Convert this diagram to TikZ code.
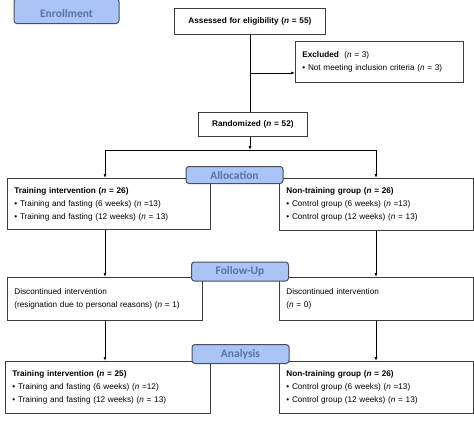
\documentclass[tikz,border=0pt]{standalone}
\usepackage{fontspec}
\setmainfont{Liberation Sans}
\newfontfamily\stagefont{Carlito}
\usetikzlibrary{arrows.meta}
\definecolor{stagefill}{RGB}{170,196,245}
\definecolor{stageline}{RGB}{70,78,96}
\definecolor{stagetext}{RGB}{85,115,170}
\definecolor{boxline}{RGB}{60,60,60}
\begin{document}
\begin{tikzpicture}[x=1pt, y=-1pt, font=\fontsize{8.2}{13}\selectfont,
        box/.style={draw=boxline, line width=0.8pt, anchor=north west, inner xsep=7pt, inner ysep=2pt, align=left, text width=#1},
        stage/.style={draw=stageline, fill=stagefill, rounded corners=3pt, line width=1pt, minimum width=97pt, minimum height=17pt, text=stagetext, font=\stagefont\bfseries\fontsize{11.5}{12}\selectfont},
        arr/.style={-{Latex[length=4pt,width=3pt]}, line width=0.8pt}]
        \useasboundingbox (0,0) rectangle (474,431);
        % enrollment
        \node[box=137pt, minimum height=26pt, align=center] (assess) at (174,8) {\textbf{Assessed for eligibility (\textit{n} = 55)}};
        \node[box=154pt, minimum height=41pt] (excl) at (295,41) {\textbf{Excluded}\ \ (\textit{n} = 3)\\ \textbullet\ Not meeting inclusion criteria (\textit{n} = 3)};
        \node[box=95pt, minimum height=24pt, align=center] (rand) at (198,112) {\textbf{Randomized (\textit{n} = 52)}};
        % allocation
        \node[box=189pt, minimum height=51pt] (train) at (7,178) {\textbf{Training intervention (\textit{n} = 26)}\\ \textbullet\ Training and fasting (6 weeks) (\textit{n} =13)\\ \textbullet\ Training and fasting (12 weeks) (\textit{n} = 13)};
        \node[box=180pt, minimum height=52pt] (nontrain) at (279,178) {\textbf{Non-training group (\textit{n} = 26)}\\ \textbullet\ Control group (6 weeks) (\textit{n} =13)\\ \textbullet\ Control group (12 weeks) (\textit{n} = 13)};
        % follow-up
        \node[box=181pt, minimum height=43pt] (discL) at (7,277) {Discontinued intervention\\ (resignation due to personal reasons) (\textit{n} = 1)};
        \node[box=180pt, minimum height=43pt] (discR) at (279,277) {Discontinued intervention\\ (\textit{n} = 0)};
        % analysis
        \node[box=191pt, minimum height=52pt] (anaL) at (5,361) {\textbf{Training intervention (\textit{n} = 25)}\\ \textbullet\ Training and fasting (6 weeks) (\textit{n} =12)\\ \textbullet\ Training and fasting (12 weeks) (\textit{n} = 13)};
        \node[box=180pt, minimum height=52pt] (anaR) at (279,361) {\textbf{Non-training group (\textit{n} = 26)}\\ \textbullet\ Control group (6 weeks) (\textit{n} =13)\\ \textbullet\ Control group (12 weeks) (\textit{n} = 13)};
        % connectors
        \coordinate (exclpt) at (250,73);
        \coordinate (split) at (250,150);
        \coordinate (lbranch) at (105,150);
        \coordinate (rbranch) at (376,150);
        \draw[line width=0.8pt] (split |- assess.south) -- (split |- rand.north);
        \draw[arr] (exclpt) -- (exclpt -| excl.west);
        \draw[arr] (split |- rand.south) -- (split);
        \draw[line width=0.8pt] (lbranch) -- (rbranch);
        \draw[arr] (lbranch) -- (lbranch |- train.north);
        \draw[arr] (rbranch) -- (rbranch |- nontrain.north);
        \draw[arr] (lbranch |- train.south) -- (lbranch |- discL.north);
        \draw[arr] (rbranch |- nontrain.south) -- (rbranch |- discR.north);
        \draw[arr] (lbranch |- discL.south) -- (lbranch |- anaL.north);
        \draw[arr] (rbranch |- discR.south) -- (rbranch |- anaR.north);
        % stage labels
        \node[stage, minimum width=105pt, minimum height=25pt, text height=14pt, text depth=2pt] (enroll) at (66.5,11) {Enrollment};
        \node[stage] (alloc) at (234.5,175) {Allocation};
        \node[stage, minimum height=19pt] (follow) at (240,271.5) {Follow-Up};
        \node[stage, minimum height=19pt] (analysis) at (240.5,354) {Analysis};
\end{tikzpicture}
\end{document}
